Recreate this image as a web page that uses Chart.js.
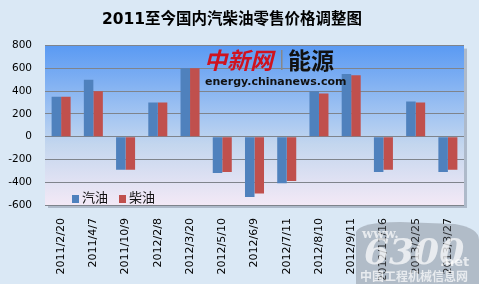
<!DOCTYPE html>
<html>
<head>
<meta charset="utf-8">
<script src="https://cdn.jsdelivr.net/npm/chart.js@4/dist/chart.umd.min.js"></script>
<style>
  html, body { margin: 0; padding: 0; background: #dae8f5; }
  #wrap { width: 479px; height: 284px; }
</style>
</head>
<body>
<div id="wrap"><canvas id="myChart" width="479" height="284"></canvas></div>
<script>
// dates of each price adjustment
const labels = ['2011/2/20', '2011/4/7', '2011/10/9', '2012/2/8', '2012/3/20', '2012/5/10',
  '2012/6/9', '2012/7/11', '2012/8/10', '2012/9/11', '2012/11/16', '2013/2/25', '2013/3/27'];
// yuan per tonne
const gasoline = [350, 500, -290, 300, 600, -320, -530, -410, 400, 550, -310, 310, -310];
const diesel = [350, 400, -290, 300, 600, -310, -500, -390, 380, 540, -290, 300, -290];
const yTicks = [800, 600, 400, 200, 0, -200, -400, -600];

const blue = '#4f81bd';
const red = '#c0504d';

// background, shadow and gradient of the plot area
const backdrop = {
  id: 'backdrop',
  beforeDraw(chart) {
    const ctx = chart.ctx, a = chart.chartArea;
    ctx.save();
    ctx.fillStyle = '#dae8f5';
    ctx.fillRect(0, 0, chart.width, chart.height);
    ctx.fillStyle = 'rgba(120,130,150,0.45)';
    ctx.fillRect(a.left + 3, a.top + 3, a.right - a.left, a.bottom - a.top);
    const g = ctx.createLinearGradient(0, a.top, 0, a.bottom);
    g.addColorStop(0, '#5a9af3');
    g.addColorStop(0.5, '#aecbf1');
    g.addColorStop(0.62, '#c3d6ee');
    g.addColorStop(1, '#f3e9f6');
    ctx.fillStyle = g;
    ctx.fillRect(a.left, a.top, a.right - a.left, a.bottom - a.top);
    ctx.restore();
  },
  afterDatasetsDraw(chart) {
    const ctx = chart.ctx;
    ctx.save();
    // chinanews logo
    ctx.textBaseline = 'middle';
    ctx.fillStyle = '#d0131f';
    ctx.font = 'italic bold 23px "Noto Sans CJK SC"';
    ctx.fillText('中新网', 204, 60);
    ctx.fillStyle = '#888';
    ctx.fillRect(281, 50, 1.5, 20);
    ctx.fillStyle = '#111';
    ctx.font = 'bold 23px "Noto Sans CJK SC"';
    ctx.fillText('能源', 288, 60);
    ctx.font = 'bold 11px "DejaVu Sans"';
    ctx.fillText('energy.chinanews.com', 205, 82);
    // legend in lower left corner
    ctx.font = '13px "Noto Sans CJK SC"';
    ctx.fillStyle = blue;
    ctx.fillRect(72, 195, 7, 8);
    ctx.fillStyle = '#111';
    ctx.fillText('汽油', 82, 197);
    ctx.fillStyle = red;
    ctx.fillRect(119, 195, 7, 8);
    ctx.fillStyle = '#111';
    ctx.fillText('柴油', 129, 197);
    ctx.restore();
  },
  afterDraw(chart) {
    const ctx = chart.ctx;
    ctx.save();
    ctx.fillStyle = 'rgba(110,115,125,0.38)';
    ctx.beginPath();
    ctx.moveTo(356, 284);
    ctx.lineTo(356, 232);
    ctx.quadraticCurveTo(360, 222, 400, 222);
    ctx.lineTo(455, 224);
    ctx.quadraticCurveTo(479, 228, 479, 240);
    ctx.lineTo(479, 284);
    ctx.closePath();
    ctx.fill();
    ctx.fillStyle = 'rgba(255,255,255,0.7)';
    ctx.font = 'bold 13px "DejaVu Serif"';
    ctx.fillText('www.', 362, 238);
    ctx.font = 'italic bold 36px "DejaVu Serif"';
    ctx.fillText('6300', 364, 264);
    ctx.font = 'bold 13px "DejaVu Sans"';
    ctx.fillText('.net', 440, 266);
    ctx.font = 'bold 12px "Noto Sans CJK SC"';
    ctx.fillText('中国工程机械信息网', 360, 281);
    ctx.restore();
  }
};

const data = {
  labels: labels,
  datasets: [{
    label: '汽油',
    data: gasoline,
    backgroundColor: blue,
    categoryPercentage: 0.59,
    barPercentage: 1
  }, {
    label: '柴油',
    data: diesel,
    backgroundColor: red,
    categoryPercentage: 0.59,
    barPercentage: 1
  }]
};

const config = {
  type: 'bar',
  data,
  plugins: [backdrop],
  options: {
    responsive: false,
    animation: false,
    layout: { padding: { left: 0, right: 15, top: 0, bottom: 0 } },
    plugins: {
      legend: { display: false },
      tooltip: { enabled: false },
      title: {
        display: true,
        text: '2011至今国内汽柴油零售价格调整图',
        color: '#000',
        font: { family: '"DejaVu Sans", "Noto Sans CJK SC"', size: 15.5, weight: 'bold' },
        padding: { top: 11, bottom: 16 }
      }
    },
    scales: {
      x: {
        afterFit(s) { s.height = 79; },
        grid: { display: false },
        border: { display: false },
        ticks: {
          color: '#000',
          minRotation: 90,
          maxRotation: 90,
          autoSkip: false,
          padding: 5,
          font: { family: 'DejaVu Sans', size: 11 }
        }
      },
      y: {
        min: -600,
        max: 800,
        afterFit(s) { s.width = 45; },
        afterBuildTicks(s) { s.ticks = yTicks.map(v => ({ value: v })); },
        grid: { color: '#7f848c', drawTicks: false },
        border: { display: false },
        ticks: {
          color: '#000',
          padding: 13,
          font: { family: 'DejaVu Sans', size: 10.5 }
        }
      }
    }
  }
};

var myChart = new Chart(document.getElementById('myChart'), config);
</script>
</body>
</html>
